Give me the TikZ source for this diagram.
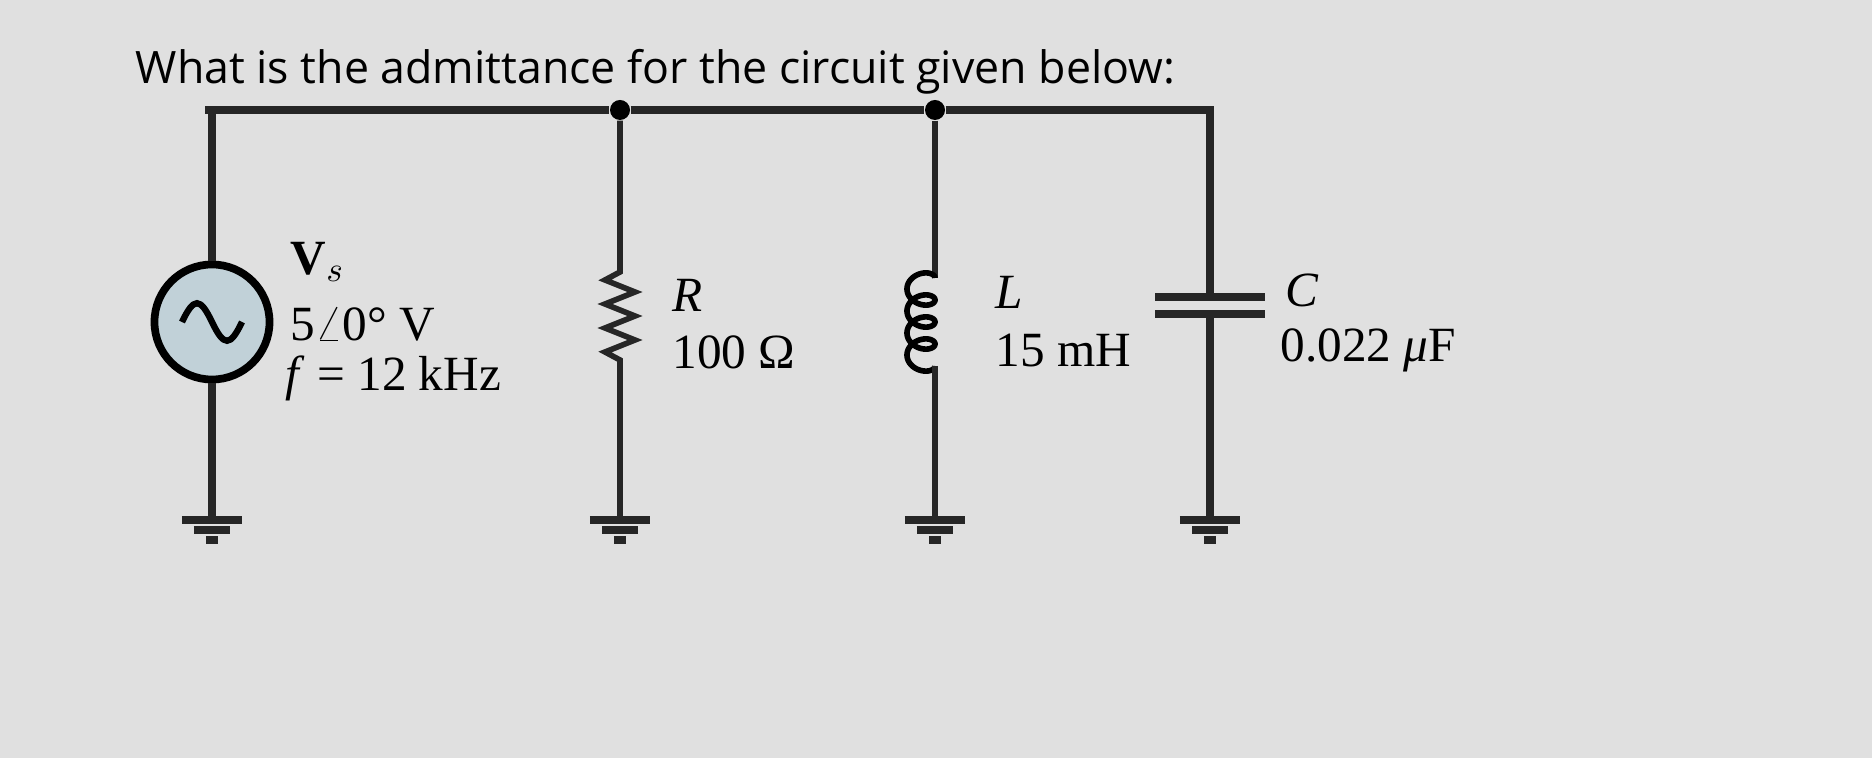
\documentclass[tikz,border=0pt]{standalone}
\usepackage{fontspec}
\setmainfont{Liberation Serif}
\newfontfamily\titlefont{Open Sans}
\begin{document}
\begin{tikzpicture}[x=0.01cm,y=-0.01cm,
  wire/.style={line width=2.2pt,black!85},
  dotst/.style={circle,fill=black,inner sep=0pt,minimum size=0.2cm},
  lbl/.style={font=\fontsize{14}{16}\selectfont,anchor=west,inner sep=0pt},
  gnd/.style={line width=2.2pt,black!85}]
\fill[black!12] (0,0) rectangle (1872,758);
\useasboundingbox (0,0) rectangle (1872,758);
\node[anchor=west,inner sep=0pt,font=\titlefont\fontsize{12.7}{15}\selectfont] (title) at (135,72) {What is the admittance for the circuit given below:};
\coordinate (tl) at (205,110);
\node[dotst] (d1) at (620,110) {};
\node[dotst] (d2) at (935,110) {};
\node[circle,draw,line width=2.2pt,fill=cyan!25!gray!45,minimum size=1.15cm] (src) at (212,322) {};
\draw[line width=1.8pt] ([xshift=-0.3cm]src.center) .. controls +(0.12cm,0.25cm) and +(-0.12cm,0.25cm) .. (src.center) .. controls +(0.12cm,-0.25cm) and +(-0.12cm,-0.25cm) .. ([xshift=0.3cm]src.center);
\draw[wire] (src.north) |- (tl) -- (d1) -- (d2) -- (1210,110) -- (1210,297);
\foreach \n/\x in {g1/212,g2/620,g3/935,g4/1210}{
  \coordinate (\n) at (\x,520);
  \draw[gnd] ([xshift=-0.3cm]\n) -- ([xshift=0.3cm]\n);
  \draw[gnd] ([xshift=-0.18cm,yshift=-0.1cm]\n) -- ([xshift=0.18cm,yshift=-0.1cm]\n);
  \draw[gnd] ([xshift=-0.06cm,yshift=-0.2cm]\n) -- ([xshift=0.06cm,yshift=-0.2cm]\n);
}
\draw[wire] (src.south) -- (g1);
\draw[wire,line width=1.6pt] (d1) -- (620,272) -- (605,280) -- (635,292) -- (605,304) -- (635,316) -- (605,328) -- (635,340) -- (605,352) -- (620,360) -- (g2);
\draw[wire,line width=1.6pt] (d2) -- (935,278);
\draw[line width=1.6pt] plot[domain=0:1440,samples=240,variable=\t] ({935-14*(1-cos(\t))},{278+0.0611111*\t-10*sin(\t)});
\draw[wire,line width=1.6pt] (935,366) -- (g3);
\draw[wire] (1155,297) -- (1265,297);
\draw[wire] (1155,314) -- (1265,314);
\draw[wire] (1210,314) -- (g4);
\node[lbl,font=\fontsize{14}{16}\selectfont\bfseries] (vs) at (290,262) {V$_{s}$};
\node[lbl] (vv) at (290,325) {5$\angle$0° V};
\node[lbl] (vf) at (285,378) {\textit{f} = 12 kHz};
\node[lbl] (rl) at (672,295) {\textit{R}};
\node[lbl] (rv) at (672,352) {100 Ω};
\node[lbl] (ll) at (995,292) {\textit{L}};
\node[lbl] (lv) at (995,350) {15 mH};
\node[lbl] (cl) at (1285,290) {\textit{C}};
\node[lbl] (cv) at (1280,350) {0.022 \textit{μ}F};
\end{tikzpicture}
\end{document}
